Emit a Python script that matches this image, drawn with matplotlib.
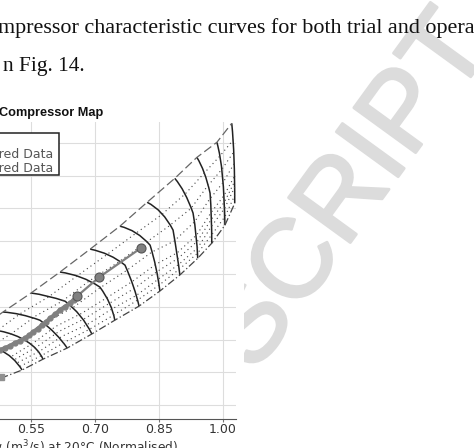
# -*- coding: utf-8 -*-

import matplotlib
matplotlib.use('Agg')
import matplotlib.pyplot as plt
import matplotlib.patheffects as pe
from matplotlib.patches import Rectangle, PathPatch
from matplotlib.path import Path

W, H = 474, 448

x_ticks = [0.55, 0.70, 0.85, 1.00]
y_grid = [0.2, 0.3, 0.4, 0.5, 0.6, 0.7, 0.8, 0.9, 1.0]

surge_x = [0.358, 0.420, 0.483, 0.549, 0.617, 0.688, 0.758, 0.822, 0.887, 0.939, 0.986, 1.021]
surge_y = [0.368, 0.426, 0.484, 0.542, 0.606, 0.676, 0.746, 0.819, 0.892, 0.956, 1.002, 1.060]

choke_x = [0.478, 0.528, 0.577, 0.634, 0.692, 0.746, 0.803, 0.852, 0.899, 0.941, 0.974, 1.005, 1.028]
choke_y = [0.282, 0.307, 0.340, 0.374, 0.417, 0.459, 0.502, 0.548, 0.597, 0.648, 0.694, 0.749, 0.816]

speed_lines = [
    ([1.021, 1.026, 1.028, 1.028], [1.060, 0.993, 0.917, 0.816]),
    ([0.986, 0.998, 1.003, 1.005], [1.002, 0.947, 0.865, 0.749]),
    ([0.939, 0.958, 0.970, 0.974, 0.974], [0.956, 0.917, 0.847, 0.779, 0.694]),
    ([0.887, 0.911, 0.930, 0.939, 0.941], [0.892, 0.856, 0.786, 0.718, 0.648]),
    ([0.822, 0.859, 0.883, 0.894, 0.899], [0.819, 0.795, 0.734, 0.651, 0.597]),
    ([0.758, 0.798, 0.829, 0.845, 0.852], [0.746, 0.734, 0.688, 0.621, 0.548]),
    ([0.688, 0.735, 0.770, 0.793, 0.803], [0.676, 0.664, 0.627, 0.560, 0.502]),
    ([0.617, 0.669, 0.711, 0.739, 0.746], [0.606, 0.597, 0.560, 0.511, 0.459]),
    ([0.549, 0.586, 0.629, 0.669, 0.692], [0.542, 0.536, 0.517, 0.478, 0.417]),
    ([0.483, 0.523, 0.570, 0.610, 0.634], [0.484, 0.481, 0.459, 0.420, 0.374]),
    ([0.476, 0.523, 0.563, 0.577], [0.426, 0.414, 0.383, 0.340]),
    ([0.476, 0.507, 0.528], [0.368, 0.350, 0.307]),
]

dotted_lines = [
    ([0.420, 0.470, 0.525, 0.590, 0.655, 0.726, 0.793, 0.855, 0.912, 0.954, 0.993, 1.025],
     [0.385, 0.428, 0.480, 0.530, 0.592, 0.658, 0.722, 0.780, 0.845, 0.905, 0.960, 1.010]),
    ([0.450, 0.505, 0.560, 0.622, 0.685, 0.755, 0.818, 0.872, 0.925, 0.962, 0.998, 1.027],
     [0.375, 0.420, 0.472, 0.517, 0.578, 0.637, 0.695, 0.745, 0.800, 0.865, 0.920, 0.975]),
    ([0.480, 0.535, 0.586, 0.648, 0.708, 0.775, 0.833, 0.885, 0.934, 0.967, 1.001, 1.028],
     [0.365, 0.405, 0.455, 0.498, 0.555, 0.612, 0.667, 0.700, 0.760, 0.825, 0.880, 0.940]),
    ([0.505, 0.555, 0.607, 0.668, 0.724, 0.788, 0.843, 0.893, 0.939, 0.971, 1.003, 1.028],
     [0.350, 0.390, 0.440, 0.480, 0.525, 0.578, 0.630, 0.665, 0.720, 0.785, 0.840, 0.900]),
    ([0.512, 0.563, 0.615, 0.674, 0.730, 0.793, 0.846, 0.895, 0.940, 0.972, 1.004, 1.028],
     [0.340, 0.378, 0.425, 0.463, 0.508, 0.557, 0.608, 0.648, 0.700, 0.765, 0.820, 0.883]),
    ([0.518, 0.570, 0.622, 0.680, 0.735, 0.797, 0.849, 0.897, 0.941, 0.973, 1.004, 1.028],
     [0.330, 0.365, 0.410, 0.445, 0.490, 0.535, 0.585, 0.630, 0.680, 0.745, 0.800, 0.865]),
    ([0.523, 0.575, 0.628, 0.686, 0.741, 0.799, 0.850, 0.898, 0.941, 0.974, 1.005, 1.028],
     [0.318, 0.352, 0.392, 0.431, 0.473, 0.520, 0.566, 0.615, 0.664, 0.720, 0.775, 0.840]),
]

# dense run of operating points at the low end
dense_x = [0.464, 0.476, 0.488, 0.500, 0.511, 0.523, 0.535, 0.545, 0.554, 0.565, 0.575, 0.585, 0.594, 0.606, 0.617, 0.629, 0.641, 0.650]
dense_y = [0.362, 0.368, 0.374, 0.381, 0.389, 0.396, 0.404, 0.413, 0.423, 0.433, 0.444, 0.454, 0.465, 0.477, 0.490, 0.500, 0.511, 0.522]
big_x = [0.657, 0.709, 0.807]
big_y = [0.532, 0.590, 0.679]
corner_x = [0.478]
corner_y = [0.285]


def curve_codes(n):
    # bezier segments so the speed lines bend smoothly through the read points
    if n == 3:
        return [Path.MOVETO, Path.CURVE3, Path.CURVE3]
    if n == 4:
        return [Path.MOVETO, Path.CURVE4, Path.CURVE4, Path.CURVE4]
    return [Path.MOVETO, Path.CURVE3, Path.CURVE3, Path.CURVE3, Path.CURVE3]


fig = plt.figure(figsize=(W / 100, H / 100), dpi=100)

# watermark sits behind the chart picture, which has its own white background
fig.text(374 / W, 1 - 210 / H, 'SCRIPT', fontsize=80, color='#dcdcdc', rotation=54,
         rotation_mode='anchor', ha='center', va='baseline', family='Liberation Sans', zorder=0,
         path_effects=[pe.withStroke(linewidth=2, foreground='#dcdcdc')])
fig.add_artist(Rectangle((0, 0), 244 / W, 1 - 95 / H, transform=fig.transFigure,
                         fc='white', ec='none', zorder=0.5))

fig.text(-2 / W, 1 - 33 / H, 'mpressor characteristic curves for both trial and opera',
         fontsize=15.9, family='Liberation Serif', color='#111111', va='baseline', zorder=3)
fig.text(3 / W, 1 - 71 / H, 'n Fig. 14.',
         fontsize=15.4, family='Liberation Serif', color='#111111', va='baseline', zorder=3)

ax = fig.add_axes([0, 1 - 418.5 / H, 236 / W, (418.5 - 122) / H])
ax.set_zorder(1)
ax.patch.set_alpha(0)
ax.set_xlim(0.476, 1.031)
ax.set_ylim(0.159, 1.064)

for s in ['top', 'left', 'right']:
    ax.spines[s].set_visible(False)
ax.spines['bottom'].set_color('#555555')
ax.set_xticks(x_ticks)
ax.set_xticklabels(['%.2f' % t for t in x_ticks], fontsize=9, color='#333333')
ax.set_yticks(y_grid)
ax.tick_params(axis='y', length=0, labelleft=False)
ax.tick_params(axis='x', length=2, color='#777777', pad=1)
ax.grid(True, color='#dddddd', lw=0.8)
ax.set_axisbelow(True)

for dx, dy in dotted_lines:
    ax.plot(dx, dy, color='#444444', lw=0.8, ls=(0, (1, 3)))
for sx, sy in speed_lines:
    verts = list(zip(sx, sy))
    ax.add_patch(PathPatch(Path(verts, curve_codes(len(verts))), fc='none', ec='#222222', lw=1.1))
ax.plot(surge_x, surge_y, color='#666666', lw=0.9, ls=(0, (7, 3)))
ax.plot(choke_x, choke_y, color='#444444', lw=0.9, ls=(0, (6, 2, 1, 2)))

ax.plot(big_x, big_y, color='#808080', lw=1.6, zorder=5)
ax.plot(dense_x, dense_y, color='#808080', lw=3, solid_capstyle='round', marker='o', ms=3.5, zorder=5)
ax.plot(big_x, big_y, ls='none', marker='o', ms=6.5, mfc='#808080', mec='#555555', mew=0.8, zorder=6)
ax.plot(corner_x, corner_y, ls='none', marker='s', ms=5, color='#909090', zorder=6)

fig.add_artist(Rectangle((-5 / W, 1 - 175 / H), 64 / W, 42 / H, transform=fig.transFigure,
                         fc='white', ec='#222222', lw=1.1, zorder=7))
fig.text(53 / W, 1 - 154 / H, 'Measured Data', fontsize=9, color='#555555',
         ha='right', va='center', zorder=8)
fig.text(53 / W, 1 - 169 / H, 'Measured Data', fontsize=9, color='#555555',
         ha='right', va='center', zorder=8)

fig.text(103 / W, 1 - 113 / H, 'Compressor Map', fontsize=9.2, fontweight='bold',
         family='Liberation Sans', ha='right', va='center', color='#111111', zorder=3)
fig.text(178 / W, 1 - 447 / H, 'Flow (m$^3$/s) at 20°C (Normalised)', fontsize=8.8,
         color='#333333', ha='right', va='center', zorder=3)

fig.savefig('out.png', dpi=100)
